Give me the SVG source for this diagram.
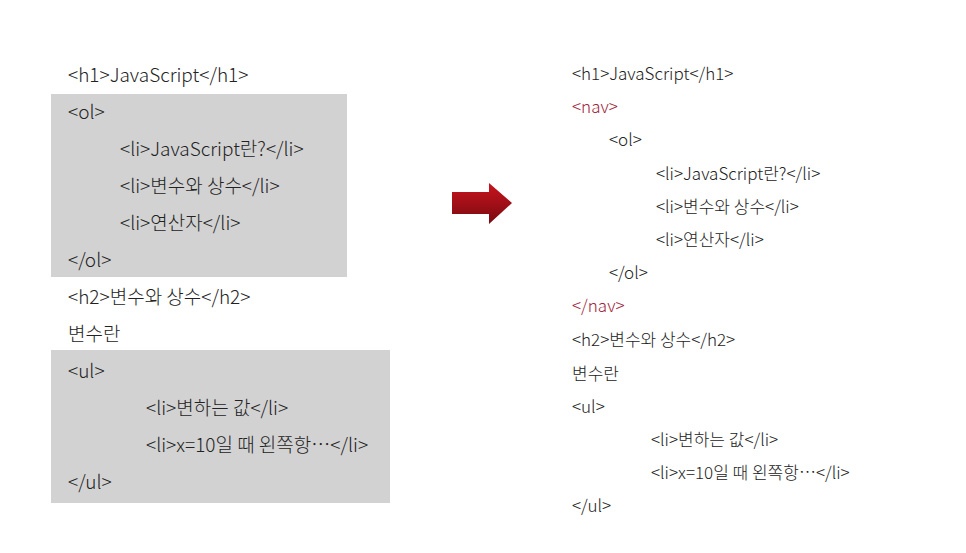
<svg xmlns="http://www.w3.org/2000/svg" width="966" height="553" viewBox="0 0 966 553">
<style>
text{font-family:"Noto Sans CJK KR","Noto Sans",sans-serif;fill:#222;font-weight:300}
.l{font-size:19px}
.r{font-size:17px}
.red{fill:#a0243a}
.box{fill:#d2d2d2}
</style>
<defs><linearGradient id="g" x1="0" y1="0" x2="0" y2="1"><stop offset="0" stop-color="#c8141e"/><stop offset="1" stop-color="#7a0a10"/></linearGradient></defs>
<rect width="966" height="553" fill="#fff"/>
<g id="left">
<rect class="box" x="51" y="94" width="296" height="183"/>
<rect class="box" x="51" y="350" width="339" height="153"/>
<text class="l" x="68" y="82">&lt;h1&gt;JavaScript&lt;/h1&gt;</text>
<text class="l" x="68" y="119">&lt;ol&gt;</text>
<text class="l" x="120" y="156">&lt;li&gt;JavaScript란?&lt;/li&gt;</text>
<text class="l" x="120" y="193">&lt;li&gt;변수와 상수&lt;/li&gt;</text>
<text class="l" x="120" y="230">&lt;li&gt;연산자&lt;/li&gt;</text>
<text class="l" x="68" y="267">&lt;/ol&gt;</text>
<text class="l" x="68" y="304">&lt;h2&gt;변수와 상수&lt;/h2&gt;</text>
<text class="l" x="68" y="341">변수란</text>
<text class="l" x="68" y="378">&lt;ul&gt;</text>
<text class="l" x="146" y="415">&lt;li&gt;변하는 값&lt;/li&gt;</text>
<text class="l" x="146" y="452">&lt;li&gt;x=10일 때 왼쪽항…&lt;/li&gt;</text>
<text class="l" x="68" y="489">&lt;/ul&gt;</text>
</g>
<g id="connectors">
<path d="M452 192 H489 V183 L512 203 L489 224 V214 H452 Z" fill="url(#g)"/>
</g>
<g id="right">
<text class="r" x="572" y="80">&lt;h1&gt;JavaScript&lt;/h1&gt;</text>
<text class="r red" x="572" y="113">&lt;nav&gt;</text>
<text class="r" x="609" y="146">&lt;ol&gt;</text>
<text class="r" x="656" y="180">&lt;li&gt;JavaScript란?&lt;/li&gt;</text>
<text class="r" x="656" y="213">&lt;li&gt;변수와 상수&lt;/li&gt;</text>
<text class="r" x="656" y="246">&lt;li&gt;연산자&lt;/li&gt;</text>
<text class="r" x="609" y="279">&lt;/ol&gt;</text>
<text class="r red" x="572" y="312">&lt;/nav&gt;</text>
<text class="r" x="572" y="346">&lt;h2&gt;변수와 상수&lt;/h2&gt;</text>
<text class="r" x="572" y="380">변수란</text>
<text class="r" x="572" y="413">&lt;ul&gt;</text>
<text class="r" x="651" y="446">&lt;li&gt;변하는 값&lt;/li&gt;</text>
<text class="r" x="651" y="479">&lt;li&gt;x=10일 때 왼쪽항…&lt;/li&gt;</text>
<text class="r" x="572" y="512">&lt;/ul&gt;</text>
</g>
</svg>
